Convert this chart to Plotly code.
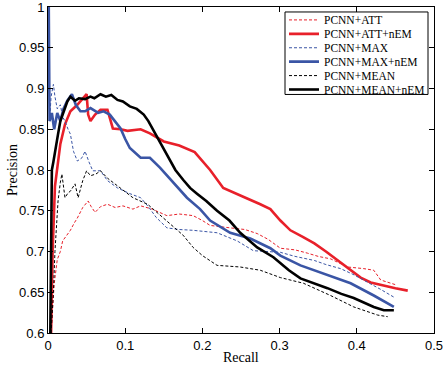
import plotly.graph_objects as go

att_x = [0.004, 0.008, 0.012, 0.016, 0.019, 0.024, 0.029, 0.034, 0.038, 0.045, 0.052, 0.056, 0.061, 0.068, 0.077, 0.087, 0.097, 0.11, 0.12, 0.135, 0.154, 0.17, 0.188, 0.2, 0.21, 0.236, 0.255, 0.271, 0.285, 0.301, 0.32, 0.336, 0.35, 0.366, 0.388, 0.409, 0.422, 0.431, 0.44, 0.451]
att_y = [0.60, 0.66, 0.69, 0.70, 0.713, 0.72, 0.726, 0.735, 0.741, 0.754, 0.762, 0.755, 0.748, 0.755, 0.758, 0.754, 0.756, 0.752, 0.756, 0.752, 0.744, 0.746, 0.744, 0.738, 0.732, 0.729, 0.727, 0.722, 0.715, 0.704, 0.702, 0.698, 0.694, 0.691, 0.681, 0.679, 0.677, 0.665, 0.662, 0.659]

attn_x = [0.004, 0.006, 0.009, 0.012, 0.016, 0.022, 0.029, 0.038, 0.045, 0.05, 0.052, 0.055, 0.061, 0.068, 0.077, 0.084, 0.094, 0.103, 0.12, 0.132, 0.15, 0.17, 0.19, 0.21, 0.227, 0.245, 0.258, 0.275, 0.288, 0.301, 0.314, 0.33, 0.345, 0.36, 0.375, 0.39, 0.405, 0.418, 0.431, 0.45, 0.466]
attn_y = [0.60, 0.70, 0.78, 0.80, 0.832, 0.856, 0.872, 0.88, 0.888, 0.893, 0.868, 0.86, 0.868, 0.874, 0.874, 0.851, 0.85, 0.848, 0.85, 0.845, 0.835, 0.83, 0.822, 0.80, 0.778, 0.77, 0.765, 0.758, 0.752, 0.738, 0.726, 0.718, 0.71, 0.70, 0.689, 0.678, 0.668, 0.662, 0.659, 0.655, 0.652]

max_x = [0.002, 0.004, 0.007, 0.009, 0.012, 0.016, 0.019, 0.022, 0.026, 0.029, 0.033, 0.038, 0.044, 0.048, 0.053, 0.058, 0.068, 0.077, 0.09, 0.106, 0.12, 0.13, 0.14, 0.154, 0.17, 0.188, 0.219, 0.245, 0.266, 0.285, 0.301, 0.32, 0.345, 0.36, 0.379, 0.395, 0.409, 0.43, 0.448]
max_y = [0.86, 0.89, 0.905, 0.89, 0.875, 0.88, 0.865, 0.86, 0.85, 0.844, 0.823, 0.811, 0.815, 0.823, 0.81, 0.799, 0.799, 0.787, 0.778, 0.771, 0.766, 0.755, 0.742, 0.729, 0.727, 0.726, 0.723, 0.713, 0.701, 0.70, 0.699, 0.694, 0.689, 0.684, 0.679, 0.672, 0.665, 0.654, 0.644]

maxn_x = [0.0, 0.001, 0.002, 0.005, 0.008, 0.012, 0.016, 0.02, 0.025, 0.031, 0.036, 0.042, 0.048, 0.055, 0.065, 0.072, 0.08, 0.087, 0.094, 0.1, 0.106, 0.12, 0.132, 0.145, 0.162, 0.18, 0.197, 0.21, 0.236, 0.262, 0.288, 0.301, 0.327, 0.362, 0.392, 0.422, 0.448]
maxn_y = [1.0, 1.0, 0.86, 0.87, 0.85, 0.87, 0.86, 0.875, 0.885, 0.893, 0.88, 0.872, 0.872, 0.876, 0.87, 0.872, 0.868, 0.86, 0.851, 0.838, 0.827, 0.815, 0.815, 0.803, 0.785, 0.766, 0.752, 0.738, 0.723, 0.716, 0.704, 0.695, 0.683, 0.671, 0.661, 0.646, 0.632]

mean_x = [0.004, 0.007, 0.009, 0.011, 0.013, 0.016, 0.018, 0.022, 0.026, 0.029, 0.035, 0.039, 0.045, 0.05, 0.055, 0.062, 0.068, 0.077, 0.094, 0.11, 0.129, 0.145, 0.158, 0.175, 0.188, 0.2, 0.219, 0.235, 0.249, 0.275, 0.301, 0.331, 0.366, 0.396, 0.427, 0.44]
mean_y = [0.60, 0.65, 0.70, 0.74, 0.762, 0.785, 0.795, 0.766, 0.772, 0.774, 0.783, 0.766, 0.787, 0.799, 0.793, 0.795, 0.799, 0.79, 0.778, 0.766, 0.758, 0.745, 0.734, 0.72, 0.705, 0.695, 0.683, 0.682, 0.681, 0.677, 0.668, 0.661, 0.646, 0.632, 0.622, 0.62]

meann_x = [0.003, 0.004, 0.005, 0.007, 0.01, 0.013, 0.016, 0.02, 0.025, 0.029, 0.035, 0.04, 0.048, 0.055, 0.06, 0.068, 0.075, 0.082, 0.09, 0.097, 0.106, 0.115, 0.124, 0.13, 0.137, 0.15, 0.165, 0.175, 0.184, 0.193, 0.205, 0.219, 0.235, 0.249, 0.271, 0.292, 0.312, 0.327, 0.345, 0.362, 0.38, 0.396, 0.422, 0.435, 0.448]
meann_y = [0.60, 0.72, 0.80, 0.81, 0.83, 0.844, 0.86, 0.872, 0.884, 0.89, 0.885, 0.888, 0.887, 0.89, 0.888, 0.893, 0.89, 0.892, 0.886, 0.884, 0.878, 0.875, 0.868, 0.86, 0.848, 0.827, 0.80, 0.788, 0.778, 0.771, 0.762, 0.75, 0.738, 0.723, 0.705, 0.693, 0.677, 0.667, 0.661, 0.655, 0.648, 0.643, 0.632, 0.628, 0.628]

x_ticks = [0, 0.1, 0.2, 0.3, 0.4, 0.5]
x_labels = ["0", "0.1", "0.2", "0.3", "0.4", "0.5"]
y_ticks = [0.6, 0.65, 0.7, 0.75, 0.8, 0.85, 0.9, 0.95, 1.0]
y_labels = ["0.6", "0.65", "0.7", "0.75", "0.8", "0.85", "0.9", "0.95", "1"]

RED = "#e8202a"
BLUE = "#3a55a5"
BLACK = "#000000"

series = [
    ("PCNN+ATT", att_x, att_y, RED, 1, "3px,2px"),
    ("PCNN+ATT+nEM", attn_x, attn_y, RED, 2.6, "solid"),
    ("PCNN+MAX", max_x, max_y, BLUE, 1, "3px,2px"),
    ("PCNN+MAX+nEM", maxn_x, maxn_y, BLUE, 2.6, "solid"),
    ("PCNN+MEAN", mean_x, mean_y, BLACK, 1, "3px,2px"),
    ("PCNN+MEAN+nEM", meann_x, meann_y, BLACK, 2.6, "solid"),
]

W, H = 445, 365
ML, MR, MT, MB = 48, 11, 5, 32
PW, PH = W - ML - MR, H - MT - MB

def px_to_paper_x(px):
    return (px - ML) / PW

def px_to_paper_y(py):
    return (H - MB - py) / PH

fig = go.Figure()
legend_keys = ["legend", "legend2", "legend3", "legend4", "legend5", "legend6"]
for i, (name, xs, ys, col, w, dash) in enumerate(series):
    fig.add_trace(go.Scatter(x=xs, y=ys, mode="lines", name=name,
                             legend=legend_keys[i],
                             line=dict(color=col, width=w, dash=dash)))

LEG_FONT = dict(family="Liberation Serif, Times New Roman", size=11.5, color="black")
row_centers = [18, 32, 46, 60, 74, 88]
legend_layout = {}
for i, key in enumerate(legend_keys):
    legend_layout[key] = dict(x=px_to_paper_x(284), y=px_to_paper_y(row_centers[i]),
                              xanchor="left", yanchor="middle",
                              bgcolor="rgba(0,0,0,0)", borderwidth=0,
                              font=LEG_FONT, itemwidth=30)

axis_common = dict(showline=True, linecolor="black", linewidth=1, mirror="ticks",
                   ticks="inside", ticklen=5, tickcolor="black", showgrid=False,
                   zeroline=False, automargin=False, ticklabeloverflow="allow",
                   tickfont=dict(family="Liberation Sans, Arial", size=13, color="black"))

TITLE_FONT = dict(family="Liberation Serif, Times New Roman", size=14, color="black")

fig.update_layout(
    width=W, height=H,
    margin=dict(l=ML, r=MR, t=MT, b=MB),
    paper_bgcolor="white", plot_bgcolor="white",
    xaxis=dict(range=[0, 0.5], tickvals=x_ticks, ticktext=x_labels, **axis_common),
    yaxis=dict(range=[0.6, 1.0], tickvals=y_ticks, ticktext=y_labels, **axis_common),
    showlegend=True,
    shapes=[dict(type="rect", xref="paper", yref="paper",
                 x0=px_to_paper_x(285), x1=px_to_paper_x(428),
                 y0=px_to_paper_y(93), y1=px_to_paper_y(10),
                 line=dict(color="black", width=1), fillcolor="white", layer="above")],
    annotations=[
        dict(text="Recall", xref="paper", yref="paper", x=0.5, y=px_to_paper_y(358),
             xanchor="center", yanchor="middle", showarrow=False, font=TITLE_FONT),
        dict(text="Precision", xref="paper", yref="paper", x=px_to_paper_x(12), y=0.5,
             xanchor="center", yanchor="middle", showarrow=False, textangle=-90, font=TITLE_FONT),
    ],
    **legend_layout,
)

fig.write_html("out.html", config={"displayModeBar": False},
               post_script="document.body.style.margin='0px';")
